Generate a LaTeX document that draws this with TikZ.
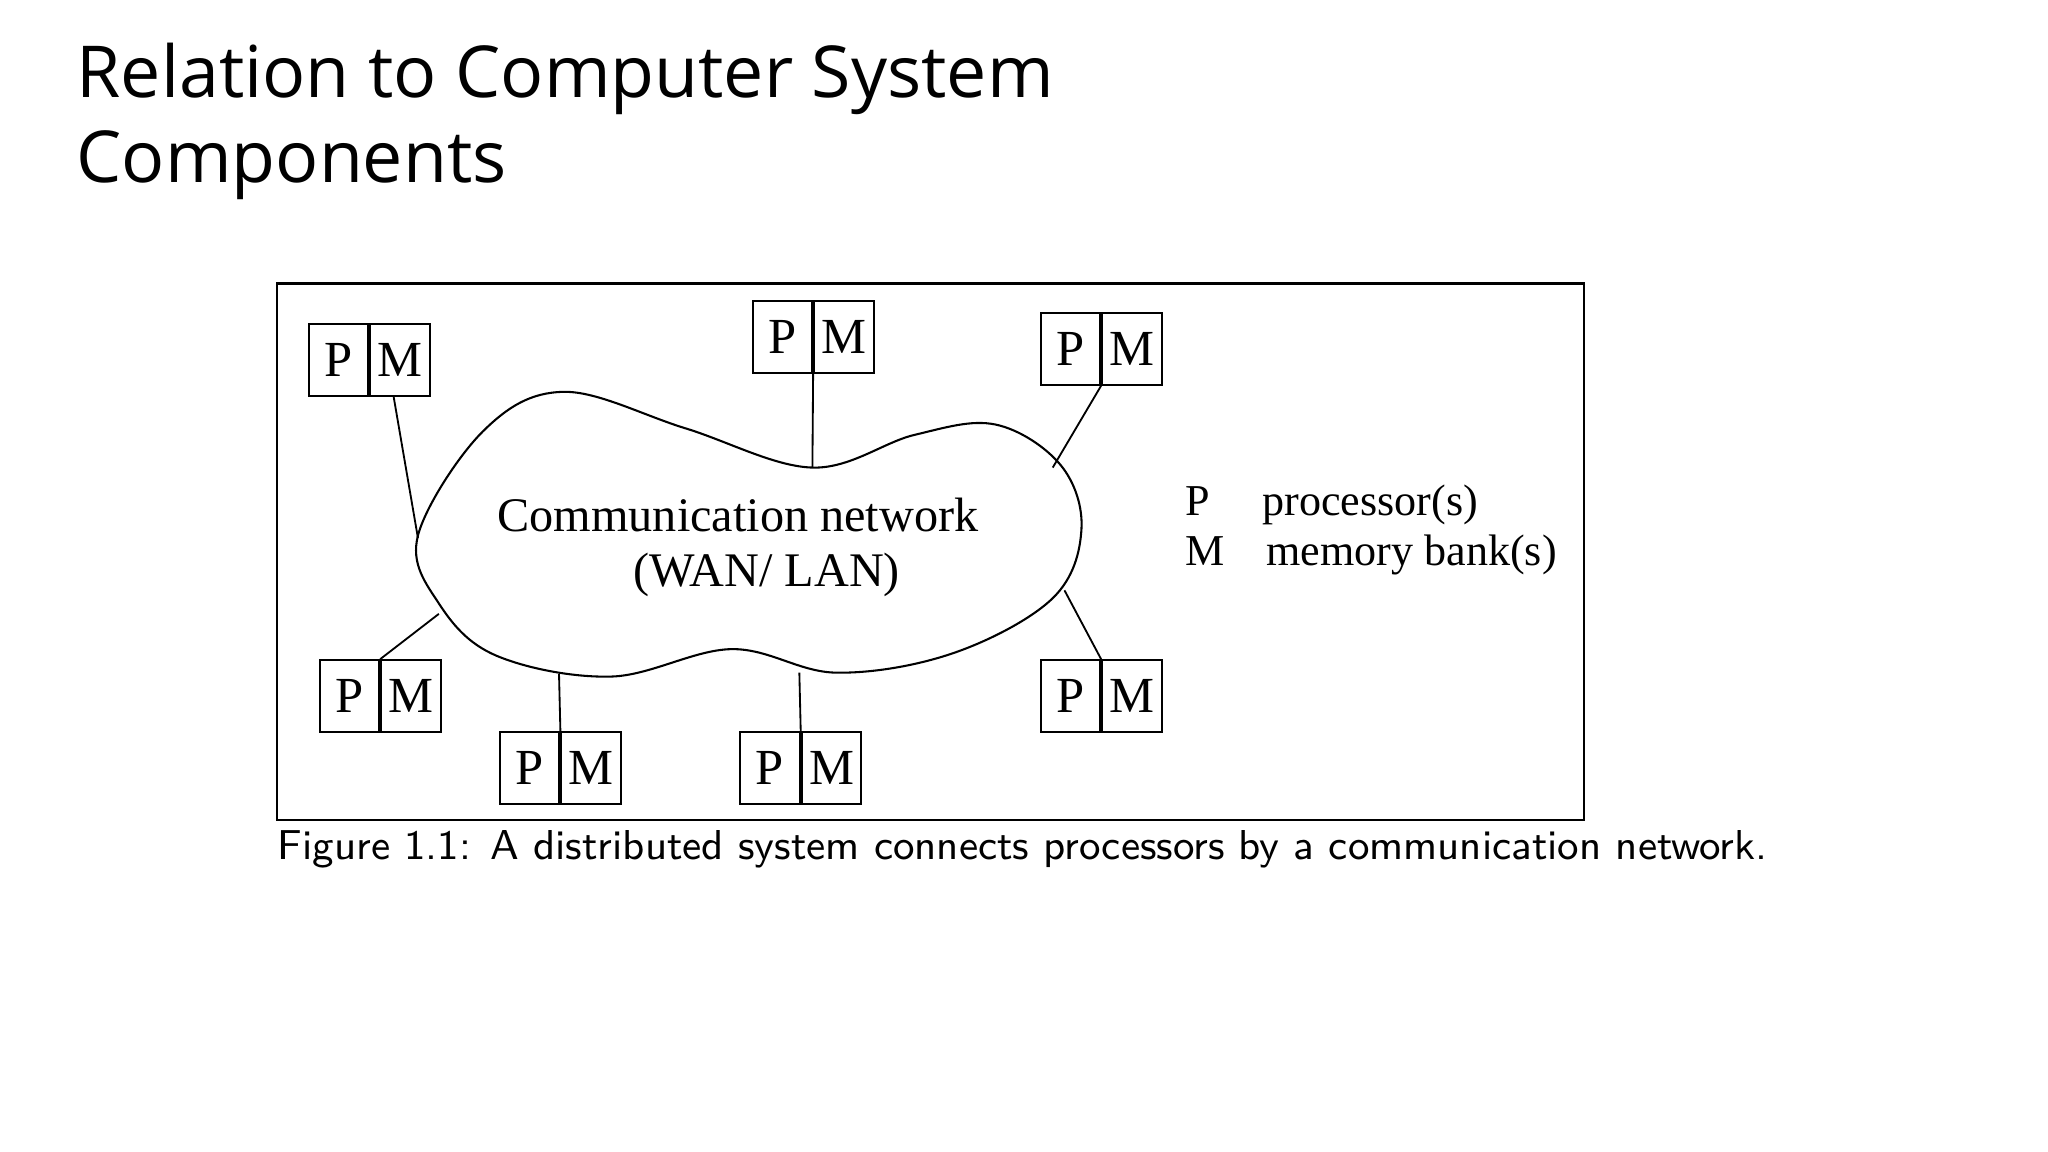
\documentclass[tikz,border=0pt]{standalone}
\usepackage{fontspec}
\setmainfont{Liberation Serif}
\newfontfamily\titlefont{Open Sans}
\usetikzlibrary{calc}
\begin{document}
\begin{tikzpicture}[x=0.01cm,y=-0.01cm,
  cell/.style={draw,line width=0.45pt,minimum width=0.455cm,minimum height=0.55cm,inner sep=0pt,font=\fontsize{11}{13}\selectfont},
  link/.style={line width=0.4pt},
  leg/.style={anchor=base west,inner sep=0pt,font=\fontsize{9.6}{11}\selectfont}]
\useasboundingbox (0,0) rectangle (1568,882);
\node[anchor=base west,inner sep=0pt,font=\titlefont\fontsize{15.6}{18}\selectfont] (t1) at (58,75) {Relation to Computer System};
\node[anchor=base west,inner sep=0pt,font=\titlefont\fontsize{15.6}{18}\selectfont] (t2) at (58,140) {Components};
\draw[line width=0.5pt] (212,217) rectangle (1213,628);
% boxes
\foreach \n/\x/\y in {1/259/275.5, 2/599/258, 3/819.5/267, 4/267.5/533, 5/405.5/588, 6/589.5/588, 7/819.5/533}{
  \node[cell] (b\n p) at (\x,\y) {P};
  \node[cell,anchor=west] (b\n m) at (b\n p.east) {M};
}
% cloud
\draw[line width=0.45pt] plot[smooth cycle,tension=0.6] coordinates {(320,410) (370,330) (432,300) (525,328) (622,358) (700,333) (762,325) (812,356) (828,405) (806,458) (730,500) (640,515) (560,497) (468,518) (380,502) (336,462)};
\node[font=\fontsize{10.5}{13}\selectfont] (cn) at (565,394) {Communication network};
\node[font=\fontsize{10.5}{13}\selectfont] (wl) at (587,440) {(WAN/ LAN)};
% attachment points on cloud
\coordinate (c1) at (320,412);
\coordinate (c2) at (622,358);
\coordinate (c3) at (806,358);
\coordinate (c4) at (336,470);
\coordinate (c5) at (428,516);
\coordinate (c6) at (612,515);
\coordinate (c7) at (815,452);
\draw[link] ($(b1m.south west)!0.4!(b1m.south east)$) -- (c1);
\draw[link] (b2p.south east) -- (c2);
\draw[link] (b3p.south east) -- (c3);
\draw[link] (b4p.north east) -- (c4);
\draw[link] (b5p.north east) -- (c5);
\draw[link] (b6p.north east) -- (c6);
\draw[link] (b7p.north east) -- (c7);
% legend
\node[leg] (lp) at (907,395) {P};
\node[leg] (lpt) at (966,395) {processor(s)};
\node[leg] (lm) at (907,433) {M};
\node[leg] (lmt) at (969,433) {memory bank(s)};
% caption
\node[anchor=base west,inner sep=0pt,font=\sffamily\fontsize{9.1}{11}\selectfont] (cap) at (212,658) {Figure 1.1: A distributed system connects processors by a communication network.};
\end{tikzpicture}
\end{document}
